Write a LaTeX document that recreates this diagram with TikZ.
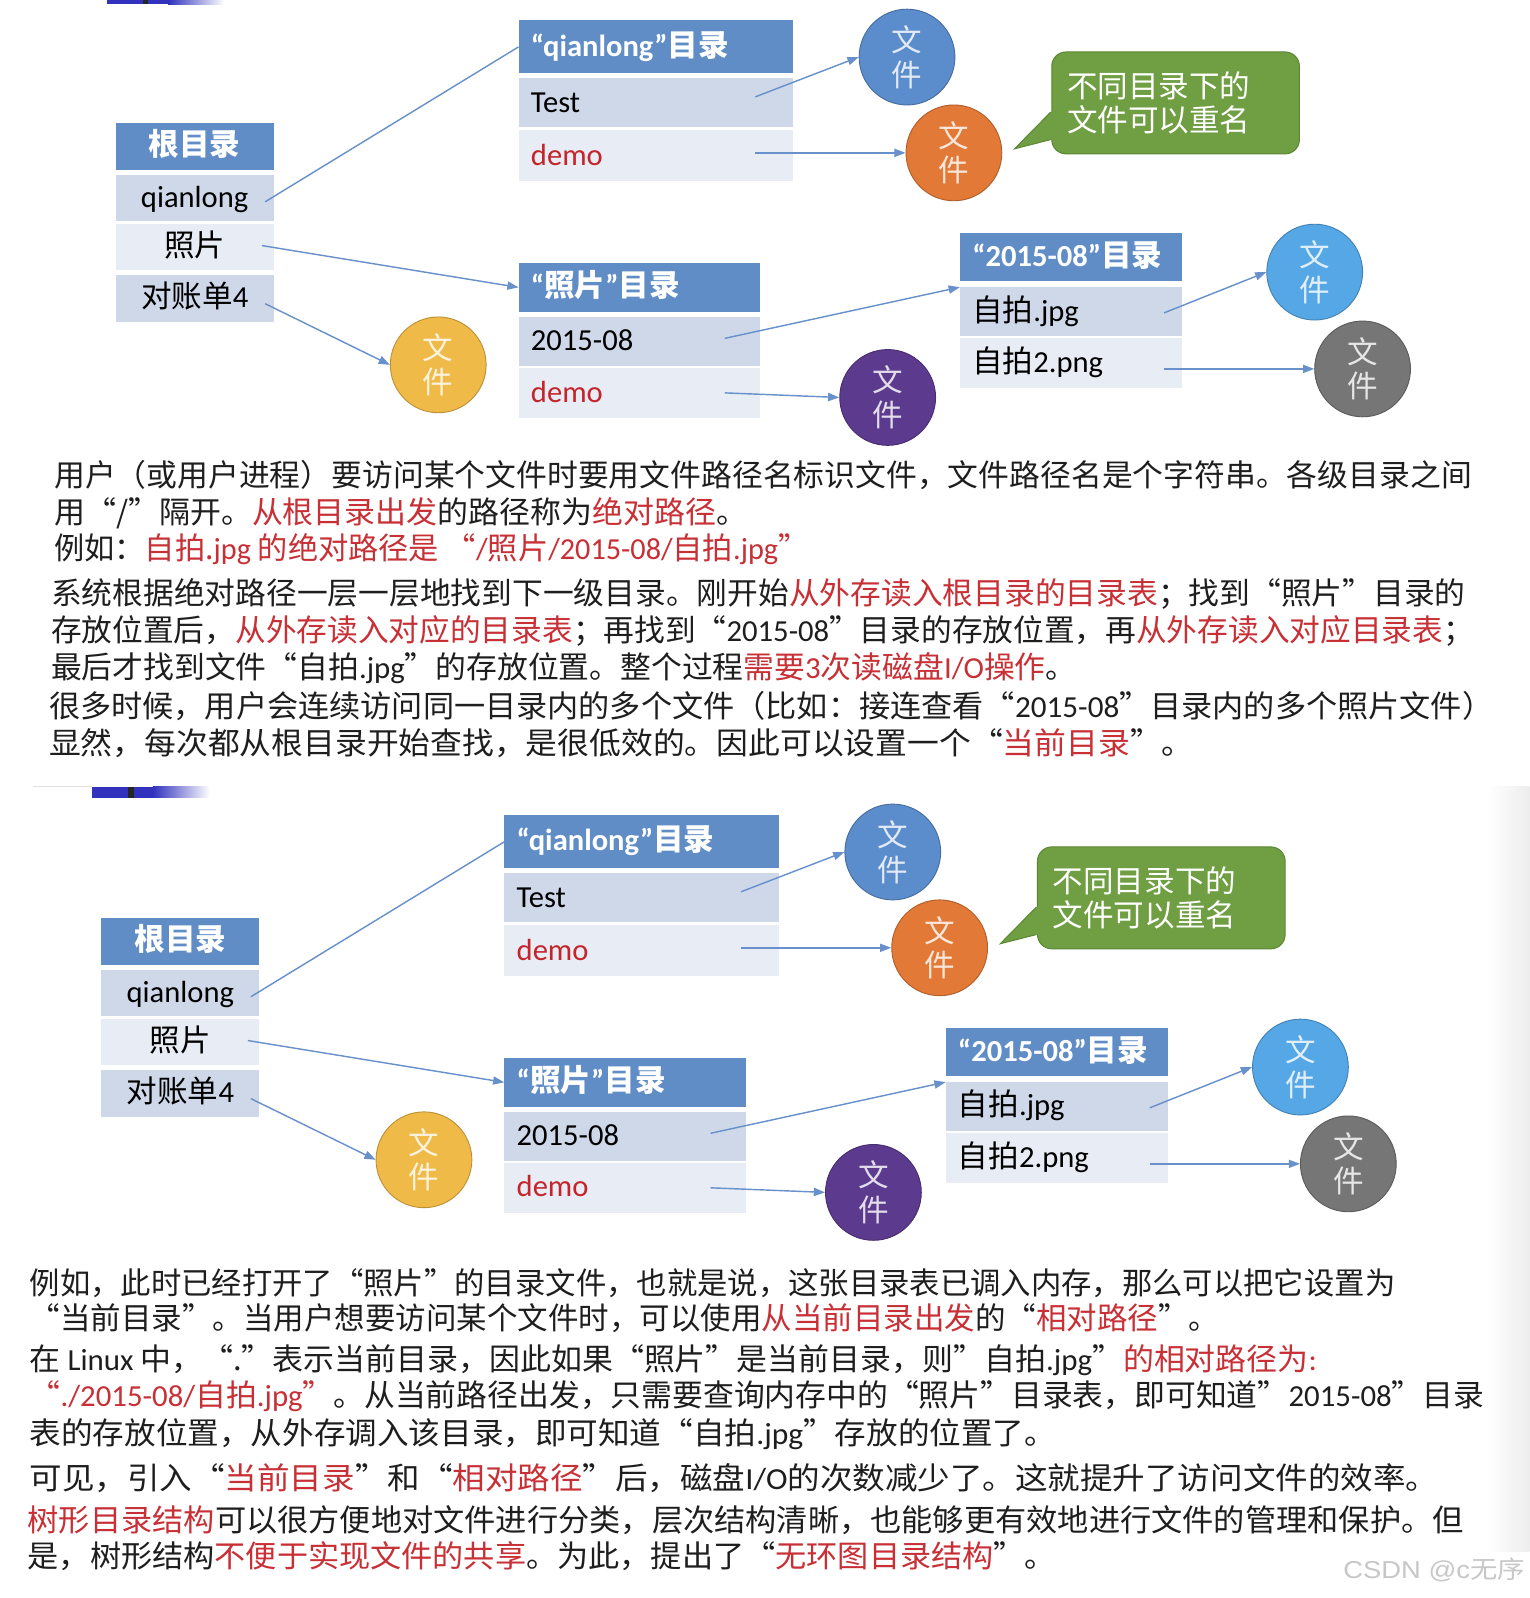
\documentclass[tikz,border=0pt]{standalone}
\usepackage{fontspec}
\usepackage{graphicx}
\setmainfont{Noto Sans CJK SC}
\newfontfamily\lat{Carlito}
\newfontfamily\wmfont{Liberation Sans}
\usetikzlibrary{arrows.meta}

\definecolor{hdrc}{RGB}{97,141,199}
\definecolor{rowAc}{RGB}{206,216,233}
\definecolor{rowBc}{RGB}{231,236,245}
\definecolor{tblred}{RGB}{196,36,42}
\definecolor{hlred}{RGB}{200,48,54}
\definecolor{bodyc}{RGB}{30,30,30}
\definecolor{arrowc}{RGB}{104,145,204}
\definecolor{cbl}{RGB}{91,140,203}
\definecolor{cor}{RGB}{226,121,55}
\definecolor{cye}{RGB}{240,186,72}
\definecolor{cpu}{RGB}{92,58,142}
\definecolor{clb}{RGB}{86,167,230}
\definecolor{cgy}{RGB}{118,118,118}
\definecolor{cgreen}{RGB}{112,158,66}
\definecolor{cgreenb}{RGB}{92,135,52}
\definecolor{barblue}{RGB}{50,50,190}

\newcommand\hl[1]{{\color{hlred}#1}}
\newcommand\fitw[2]{\resizebox{#1pt}{\height}{#2}}

\tikzset{
  cellbase/.style={inner xsep=0pt, inner ysep=0pt, font=\fontsize{30}{34}\selectfont, text height=24pt, text depth=6pt},
  hdrcell/.style={cellbase, fill=hdrc, text=white, font=\bfseries\fontsize{30}{34}\selectfont},
  rowA/.style={cellbase, fill=rowAc, text=black},
  rowB/.style={cellbase, fill=rowBc, text=black},
  lcell/.style={inner xsep=12pt, align=left},
  fc/.style={circle, fill=#1, draw=#1!78!black, line width=0.9pt, minimum size=94pt, inner sep=0pt,
    text=white!82!#1, align=center, font=\fontsize{30}{34}\selectfont},
  callbox/.style={fill=cgreen, draw=cgreenb, line width=1pt, rounded corners=14pt, minimum width=243pt,
    minimum height=100pt, text=white, align=left, text width=213pt, inner xsep=15pt, inner ysep=0pt,
    font=\fontsize{30}{33}\selectfont},
  arr/.style={draw=arrowc, line width=1.4pt, -{Triangle[length=11pt,width=8pt]}},
  lnk/.style={draw=arrowc, line width=1.4pt},
  bodyline/.style={anchor=west, inner sep=0pt, text height=26.4pt, text depth=3.6pt,
    font=\fontsize{30}{34}\selectfont, text=bodyc},
}

\newcommand\drawdiagram[1]{%
  % root table
  \node[hdrcell, minimum width=155pt, minimum height=46pt] (#1root) at (191,143.5) {根目录};
  \node[rowA, minimum width=155pt, minimum height=45pt] (#1rq) at (191,194.5) {{\lat qianlong}};
  \node[rowB, minimum width=155pt, minimum height=45pt] (#1rp) at (191,242.5) {照片};
  \node[rowA, minimum width=155pt, minimum height=46pt] (#1rd) at (191,293) {对账单{\lat 4}};
  % qianlong table
  \node[hdrcell, lcell, text width=245pt, minimum height=52pt] (#1qh) at (643.5,46) {{\lat “qianlong”}目录};
  \node[rowA, lcell, text width=245pt, minimum height=48pt] (#1qt) at (643.5,101) {{\lat Test}};
  \node[rowB, lcell, text width=245pt, minimum height=50pt] (#1qd) at (643.5,153) {{\lat\color{tblred}demo}};
  % photo table
  \node[hdrcell, lcell, text width=213pt, minimum height=48pt] (#1ph) at (627.5,282) {{\lat “}照片{\lat ”}目录};
  \node[rowA, lcell, text width=213pt, minimum height=48pt] (#1pd) at (627.5,335) {{\lat 2015-08}};
  \node[rowB, lcell, text width=213pt, minimum height=49pt] (#1pm) at (627.5,385.5) {{\lat\color{tblred}demo}};
  % 2015-08 table
  \node[hdrcell, lcell, text width=194pt, minimum height=47pt] (#1dh) at (1051,252.5) {{\lat “2015-08”}目录};
  \node[rowA, lcell, text width=194pt, minimum height=48pt] (#1dj) at (1051,306) {自拍{\lat .jpg}};
  \node[rowB, lcell, text width=194pt, minimum height=49pt] (#1dp) at (1051,356.5) {自拍{\lat 2.png}};
  % file circles
  \node[fc=cbl] (#1cb) at (890,56) {文\\件};
  \node[fc=cor] (#1co) at (936,150) {文\\件};
  \node[fc=cye] (#1cy) at (430,358) {文\\件};
  \node[fc=cpu] (#1cp) at (871,390) {文\\件};
  \node[fc=clb] (#1cl) at (1290,267) {文\\件};
  \node[fc=cgy] (#1cg) at (1337,362) {文\\件};
  % callout
  \node[callbox] (#1call) at (1153.5,101) {不同目录下的\\文件可以重名};
  \fill[cgreen] ([xshift=-1pt,yshift=-9pt]#1call.west) -- ([xshift=-36pt,yshift=-45pt]#1call.west)
     -- ([xshift=-1pt,yshift=-36pt]#1call.west) -- ([xshift=8pt,yshift=-36pt]#1call.west)
     -- ([xshift=8pt,yshift=-9pt]#1call.west) -- cycle;
  \draw[cgreenb, line width=1pt] ([xshift=-0.5pt,yshift=-9pt]#1call.west) -- ([xshift=-36pt,yshift=-45pt]#1call.west)
     -- ([xshift=-0.5pt,yshift=-36pt]#1call.west);
  % connectors
  \draw[lnk] ([xshift=-8.5pt,yshift=-3.5pt]#1rq.east) -- (#1qh.west);
  \draw[arr] ([xshift=-11.5pt,yshift=1.5pt]#1rp.east) -- (#1ph.west);
  \draw[arr] ([xshift=-8.5pt,yshift=-5pt]#1rd.east) -- (#1cy.west);
  \draw[arr] ([xshift=-37pt,yshift=6pt]#1qt.east) -- (#1cb.west);
  \draw[arr] ([xshift=-37pt,yshift=3pt]#1qd.east) -- (#1co.west);
  \draw[arr] ([xshift=-35pt,yshift=3pt]#1pd.east) -- (#1dj.north west);
  \draw[arr] ([xshift=-35pt]#1pm.east) -- (#1cp.west);
  \draw[arr] ([xshift=-18pt,yshift=-1pt]#1dj.east) -- (#1cl.west);
  \draw[arr] ([xshift=-18pt,yshift=-5.5pt]#1dp.east) -- (#1cg.west);
}

\begin{document}
\begin{tikzpicture}[x=1pt,y=-1pt]
\useasboundingbox (0,0) rectangle (1501,1568);
\fill[white] (0,0) rectangle (1501,1568);

% slide decorations
\fill[barblue] (105,0) rectangle (165,4);
\shade[left color=barblue, right color=white] (165,0) rectangle (220,4);
\fill[black!85] (140,0) rectangle (145,4);

\draw[black!12, line width=0.6pt] (32,772) -- (90,772);
\fill[barblue] (90,772) rectangle (150,783);
\shade[left color=barblue, right color=white] (150,772) rectangle (206,783);
\fill[black!85] (126,772) rectangle (131,783);
\shade[left color=white, right color=black!7] (1459,772) rectangle (1501,1522);

% diagrams
\begin{scope}
  \drawdiagram{a}
\end{scope}
\begin{scope}[shift={(-14,780)}]
  \drawdiagram{b}
\end{scope}

% top text
\node[bodyline] (t1) at (53,466) {\fitw{1391}{用户（或用户进程）要访问某个文件时要用文件路径名标识文件，文件路径名是个字符串。各级目录之间}};
\node[bodyline] (t2) at (53,502) {\fitw{680}{用“/”隔开。\hl{从根目录出发}的路径称为\hl{绝对路径}。}};
\node[bodyline] (t3) at (53,538) {\fitw{740}{例如：\hl{自拍.{\lat jpg} 的绝对路径是 “{\lat /}照片{\lat /2015-08/}自拍{\lat .jpg}”}}};
\node[bodyline] (t4) at (50,582) {\fitw{1388}{系统根据绝对路径一层一层地找到下一级目录。刚开始\hl{从外存读入根目录的目录表}；找到“照片”目录的}};
\node[bodyline] (t5) at (50,618) {\fitw{1396}{存放位置后，\hl{从外存读入对应的目录表}；再找到“{\lat 2015-08}”目录的存放位置，再\hl{从外存读入对应目录表}；}};
\node[bodyline] (t6) at (50,654) {\fitw{1006}{最后才找到文件“自拍{\lat .jpg}”的存放位置。整个过程\hl{需要{\lat 3}次读磁盘{\lat I/O}操作}。}};
\node[bodyline] (t7) at (48,693) {\fitw{1417}{很多时候，用户会连续访问同一目录内的多个文件（比如：接连查看“{\lat 2015-08}”目录内的多个照片文件）}};
\node[bodyline] (t8) at (48,729) {\fitw{1123}{显然，每次都从根目录开始查找，是很低效的。因此可以设置一个“\hl{当前目录}”。}};

% bottom text
\node[bodyline] (b1) at (29,1259) {\fitw{1340}{例如，此时已经打开了“照片”的目录文件，也就是说，这张目录表已调入内存，那么可以把它设置为}};
\node[bodyline] (b2) at (29,1293) {\fitw{1167}{“当前目录”。当用户想要访问某个文件时，可以使用\hl{从当前目录出发}的“\hl{相对路径}”。}};
\node[bodyline] (b3) at (29,1333) {\fitw{1263}{在 {\lat Linux} 中，“.”表示当前目录，因此如果“照片”是当前目录，则”自拍{\lat .jpg}”\hl{的相对路径为{\lat :}}}};
\node[bodyline] (b4) at (29,1369) {\fitw{1427}{\hl{“{\lat ./2015-08/}自拍{\lat .jpg}”}。从当前路径出发，只需要查询内存中的“照片”目录表，即可知道”{\lat 2015-08}”目录}};
\node[bodyline] (b5) at (29,1406) {\fitw{1007}{表的存放位置，从外存调入该目录，即可知道“自拍{\lat .jpg}”存放的位置了。}};
\node[bodyline] (b6) at (29,1450) {\fitw{1382}{可见，引入“\hl{当前目录}”和“\hl{相对路径}”后，磁盘{\lat I/O}的次数减少了。这就提升了访问文件的效率。}};
\node[bodyline] (b7) at (27,1491) {\fitw{1409}{\hl{树形目录结构}可以很方便地对文件进行分类，层次结构清晰，也能够更有效地进行文件的管理和保护。但}};
\node[bodyline] (b8) at (27,1527) {\fitw{1009}{是，树形结构\hl{不便于实现文件的共享}。为此，提出了“\hl{无环图目录结构}”。}};

% watermark
\node[anchor=west, inner sep=0pt, text=black!22, font=\fontsize{24}{26}\selectfont] (wm) at (1318,1540)
  {\fitw{178}{{\wmfont CSDN @c}无序}};
\end{tikzpicture}
\end{document}
